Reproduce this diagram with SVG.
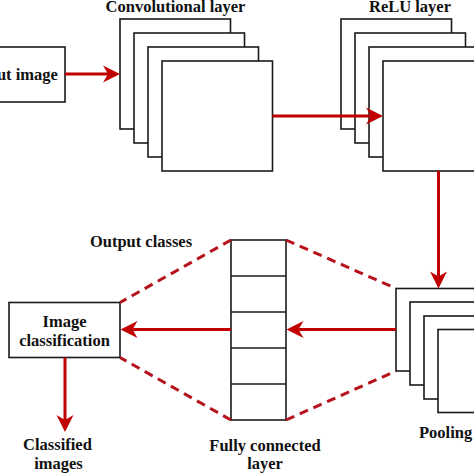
<svg xmlns="http://www.w3.org/2000/svg" width="474" height="474" viewBox="0 0 474 474">
<style>
.box{fill:#fff;stroke:#1a1a1a;stroke-width:1.6}
.t{font-family:"Liberation Serif","Times New Roman",serif;font-weight:bold;font-size:16.5px;fill:#111;text-anchor:middle}
.arr{stroke:#c00000;stroke-width:3;fill:none;marker-end:url(#ah)}
.dash{stroke:#b5121b;stroke-width:3;fill:none;stroke-dasharray:9 6}
</style>
<defs>
<marker id="ah" viewBox="-18 -9 19 18" refX="-12" refY="0" markerWidth="19" markerHeight="18" markerUnits="userSpaceOnUse" orient="auto">
<path d="M0,0 L-17,-8.5 L-12,0 L-17,8.5 Z" fill="#c00000"/>
</marker>
</defs>
<rect width="474" height="474" fill="#fff"/>
<g id="input-image">
<rect class="box" x="-35" y="47" width="100" height="55"/>
<text class="t" x="15" y="80">Input image</text>
</g>
<g id="conv-layer">
<rect class="box" x="120" y="19" width="110.5" height="110"/>
<rect class="box" x="134" y="33" width="110.5" height="110"/>
<rect class="box" x="148" y="47" width="110.5" height="110"/>
<rect class="box" x="162" y="61" width="110.5" height="110"/>
<text class="t" x="175.5" y="12">Convolutional layer</text>
</g>
<g id="relu-layer">
<rect class="box" x="341" y="19" width="110.5" height="110"/>
<rect class="box" x="355" y="33" width="110.5" height="110"/>
<rect class="box" x="369" y="47" width="110.5" height="110"/>
<rect class="box" x="383" y="61" width="110.5" height="110"/>
<text class="t" x="410" y="12">ReLU layer</text>
</g>
<g id="pooling-layer">
<rect class="box" x="396" y="288.5" width="83" height="82.5"/>
<rect class="box" x="410" y="302" width="83" height="83"/>
<rect class="box" x="424" y="316" width="83" height="83"/>
<rect class="box" x="438" y="329.5" width="83" height="83"/>
<text class="t" x="419" y="438" style="text-anchor:start">Pooling layer</text>
</g>
<g id="fully-connected-layer">
<rect class="box" x="231" y="240" width="55" height="180"/>
<line class="box" x1="231" y1="276" x2="286" y2="276"/>
<line class="box" x1="231" y1="312" x2="286" y2="312"/>
<line class="box" x1="231" y1="348" x2="286" y2="348"/>
<line class="box" x1="231" y1="384" x2="286" y2="384"/>
<text class="t" x="265" y="451">Fully connected</text>
<text class="t" x="265" y="469">layer</text>
</g>
<g id="output-classes">
<text class="t" x="141" y="247">Output classes</text>
</g>
<g id="image-classification">
<rect class="box" x="9" y="302.5" width="111" height="55"/>
<text class="t" x="64.5" y="327">Image</text>
<text class="t" x="64.5" y="345.5">classification</text>
</g>
<g id="classified-images">
<text class="t" x="57.5" y="450">Classified</text>
<text class="t" x="58.5" y="469">images</text>
</g>
<g id="connectors">
<line class="arr" x1="65" y1="74" x2="108" y2="74"/>
<line class="arr" x1="272.5" y1="116" x2="371" y2="116"/>
<line class="arr" x1="438.5" y1="171" x2="438.5" y2="276.5"/>
<line class="arr" x1="396" y1="329.5" x2="298.5" y2="329.5"/>
<line class="arr" x1="231" y1="329.5" x2="132.5" y2="329.5"/>
<line class="arr" x1="65" y1="357.5" x2="65" y2="420"/>
<line class="dash" x1="286" y1="240" x2="396" y2="288.5"/>
<line class="dash" x1="286" y1="420" x2="396" y2="371"/>
<line class="dash" x1="231" y1="240" x2="120" y2="302.5"/>
<line class="dash" x1="231" y1="420" x2="120" y2="357.5"/>
</g>
</svg>
